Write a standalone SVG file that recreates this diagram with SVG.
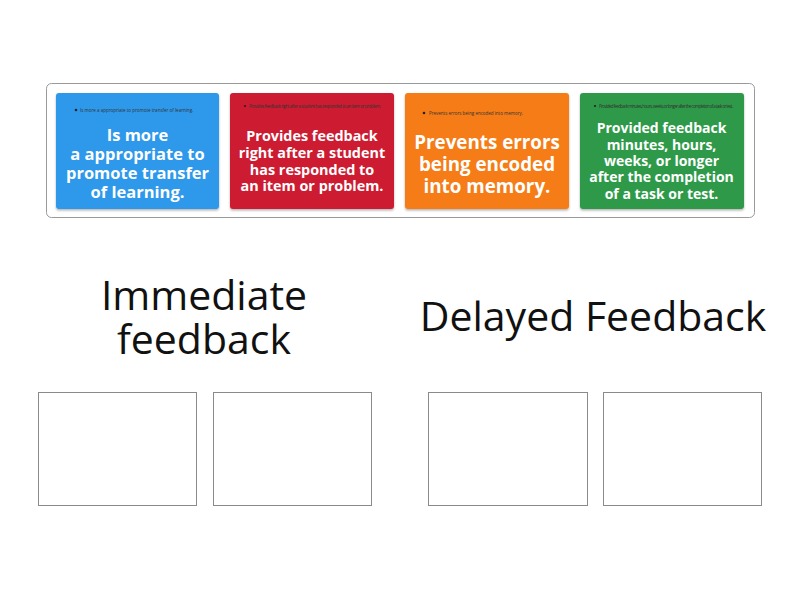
<svg xmlns="http://www.w3.org/2000/svg" width="800" height="600" viewBox="0 0 800 600">
<defs>
<style>
.card text.big{font-family:"Open Sans","Liberation Sans",sans-serif;font-weight:bold;fill:#fff;text-anchor:middle}
.card text.small{font-family:"Open Sans","Liberation Sans",sans-serif;font-size:4.5px;fill:#333}
.head{font-family:"Open Sans","Liberation Sans",sans-serif;font-size:41px;fill:#111;text-anchor:middle}
.slot{fill:#fff;stroke:#8a8a8a;stroke-width:1}
</style>
<filter id="sh" x="-10%" y="-10%" width="120%" height="130%">
<feDropShadow dx="0" dy="1.5" stdDeviation="1.2" flood-color="#000" flood-opacity="0.3"/>
</filter>
</defs>
<rect width="800" height="600" fill="#fff"/>
<g id="tray">
<rect x="46.5" y="83.5" width="708" height="134" rx="5" fill="#fff" stroke="#9a9a9a" stroke-width="1"/>
</g>
<g id="card1" class="card">
<rect x="56" y="93" width="163" height="116" rx="3" fill="#2e98ea" filter="url(#sh)"/>
<circle cx="76" cy="110" r="1.3" fill="#222"/>
<text class="small" x="80" y="111.5">Is more a appropriate to promote transfer of learning.</text>
<text class="big" font-size="16.5" x="137.5"><tspan x="137.5" y="141">Is more</tspan><tspan x="137.5" y="160">a appropriate to</tspan><tspan x="137.5" y="179">promote transfer</tspan><tspan x="137.5" y="198">of learning.</tspan></text>
</g>
<g id="card2" class="card">
<rect x="230" y="93" width="164" height="116" rx="3" fill="#cd1f30" filter="url(#sh)"/>
<circle cx="245" cy="106" r="1.1" fill="#222"/>
<text class="small" x="249" y="107.5" font-size="3.5" textLength="132">Provides feedback right after a student has responded to an item or problem.</text>
<text class="big" font-size="14.4" x="312"><tspan x="312" y="141">Provides feedback</tspan><tspan x="312" y="158">right after a student</tspan><tspan x="312" y="174.5">has responded to</tspan><tspan x="312" y="191">an item or problem.</tspan></text>
</g>
<g id="card3" class="card">
<rect x="405" y="93" width="164" height="116" rx="3" fill="#f57c16" filter="url(#sh)"/>
<circle cx="424" cy="113" r="1.3" fill="#222"/>
<text class="small" x="429" y="114.5">Prevents errors being encoded into memory.</text>
<text class="big" font-size="18.8" x="487"><tspan x="487" y="149">Prevents errors</tspan><tspan x="487" y="171">being encoded</tspan><tspan x="487" y="193">into memory.</tspan></text>
</g>
<g id="card4" class="card">
<rect x="580" y="93" width="164" height="116" rx="3" fill="#2f9a4a" filter="url(#sh)"/>
<circle cx="595" cy="106" r="1.1" fill="#222"/>
<text class="small" x="599" y="107.5" font-size="3.5" textLength="134">Provided feedback minutes, hours, weeks, or longer after the completion of a task or test.</text>
<text class="big" font-size="14" x="661.5"><tspan x="661.5" y="133">Provided feedback</tspan><tspan x="661.5" y="149.5">minutes, hours,</tspan><tspan x="661.5" y="166">weeks, or longer</tspan><tspan x="661.5" y="182">after the completion</tspan><tspan x="661.5" y="198.5">of a task or test.</tspan></text>
</g>
<g id="heading1">
<text class="head" x="204"><tspan x="204" y="310">Immediate</tspan><tspan x="204" y="354">feedback</tspan></text>
</g>
<g id="heading2">
<text class="head" x="593" y="331">Delayed Feedback</text>
</g>
<g id="slot1"><rect class="slot" x="38.5" y="392.5" width="158" height="113"/></g>
<g id="slot2"><rect class="slot" x="213.5" y="392.5" width="158" height="113"/></g>
<g id="slot3"><rect class="slot" x="428.5" y="392.5" width="159" height="113"/></g>
<g id="slot4"><rect class="slot" x="603.5" y="392.5" width="158" height="113"/></g>
<g id="connectors"></g>
</svg>
